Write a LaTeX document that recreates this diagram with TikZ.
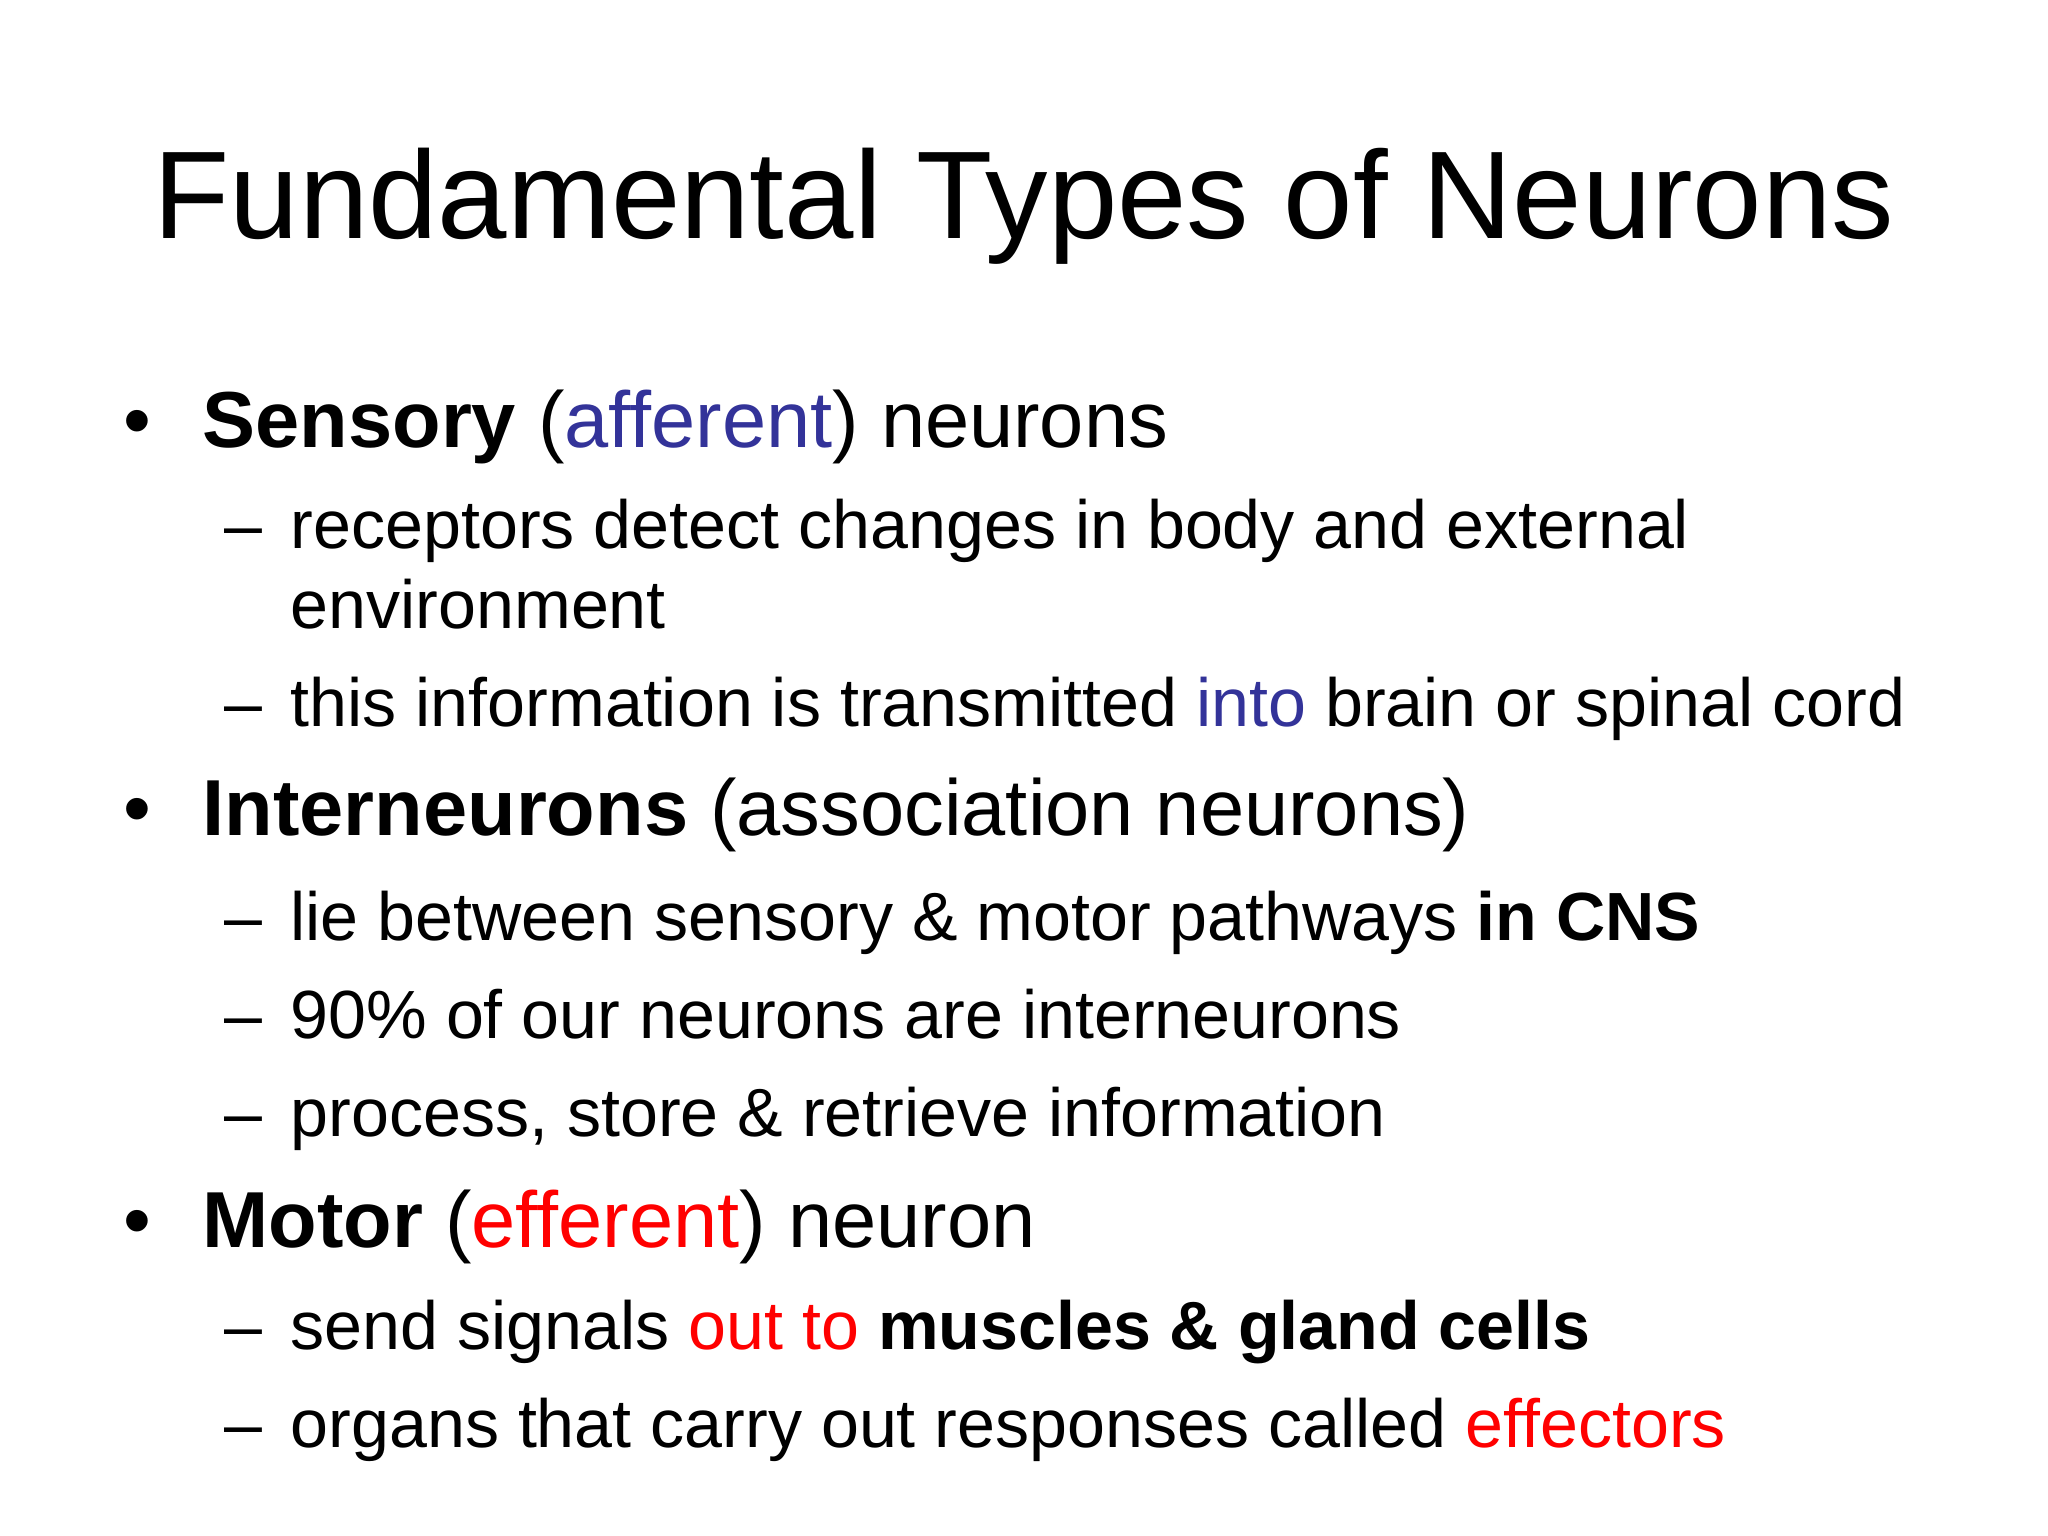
\documentclass[tikz,border=0pt]{standalone}
\usepackage{fontspec}
\setmainfont{Liberation Sans}
\definecolor{afblue}{RGB}{51,51,153}
\definecolor{efred}{RGB}{255,0,0}
\begin{document}
\begin{tikzpicture}[yscale=-1,
  lone/.style={anchor=base west,inner sep=0pt,font=\fontsize{22.6}{26}\selectfont},
  ltwo/.style={anchor=base west,inner sep=0pt,font=\fontsize{19.4}{23}\selectfont},
  bul/.style={anchor=base,inner sep=0pt,font=\fontsize{22.6}{26}\selectfont}]
\useasboundingbox (0,0) rectangle (20.48,15.36);
\node[anchor=base,inner sep=0pt,font=\fontsize{35.5}{40}\selectfont] (title) at (10.24,2.39) {Fundamental Types of Neurons};
\node[bul] (b1) at (1.37,4.48) {•};
\node[lone] (s) at (2.02,4.48) {\textbf{Sensory} (\textcolor{afblue}{afferent}) neurons};
\node[ltwo] (d1) at (2.24,5.49) {–};
\node[ltwo] (s1) at (2.90,5.49) {receptors detect changes in body and external};
\node[ltwo] (s1b) at (2.90,6.29) {environment};
\node[ltwo] (d2) at (2.24,7.27) {–};
\node[ltwo] (s2) at (2.90,7.27) {this information is transmitted \textcolor{afblue}{into} brain or spinal cord};
\node[bul] (b2) at (1.37,8.36) {•};
\node[lone] (i) at (2.02,8.36) {\textbf{Interneurons} (association neurons)};
\node[ltwo] (d3) at (2.24,9.40) {–};
\node[ltwo] (i1) at (2.90,9.40) {lie between sensory \& motor pathways \textbf{in CNS}};
\node[ltwo] (d4) at (2.24,10.38) {–};
\node[ltwo] (i2) at (2.90,10.38) {90\% of our neurons are interneurons};
\node[ltwo] (d5) at (2.24,11.36) {–};
\node[ltwo] (i3) at (2.90,11.36) {process, store \& retrieve information};
\node[bul] (b3) at (1.37,12.47) {•};
\node[lone] (m) at (2.02,12.47) {\textbf{Motor} (\textcolor{efred}{efferent}) neuron};
\node[ltwo] (d6) at (2.24,13.49) {–};
\node[ltwo] (m1) at (2.90,13.49) {send signals \textcolor{efred}{out to} \textbf{muscles \& gland cells}};
\node[ltwo] (d7) at (2.24,14.47) {–};
\node[ltwo] (m2) at (2.90,14.47) {organs that carry out responses called \textcolor{efred}{effectors}};
\end{tikzpicture}
\end{document}
